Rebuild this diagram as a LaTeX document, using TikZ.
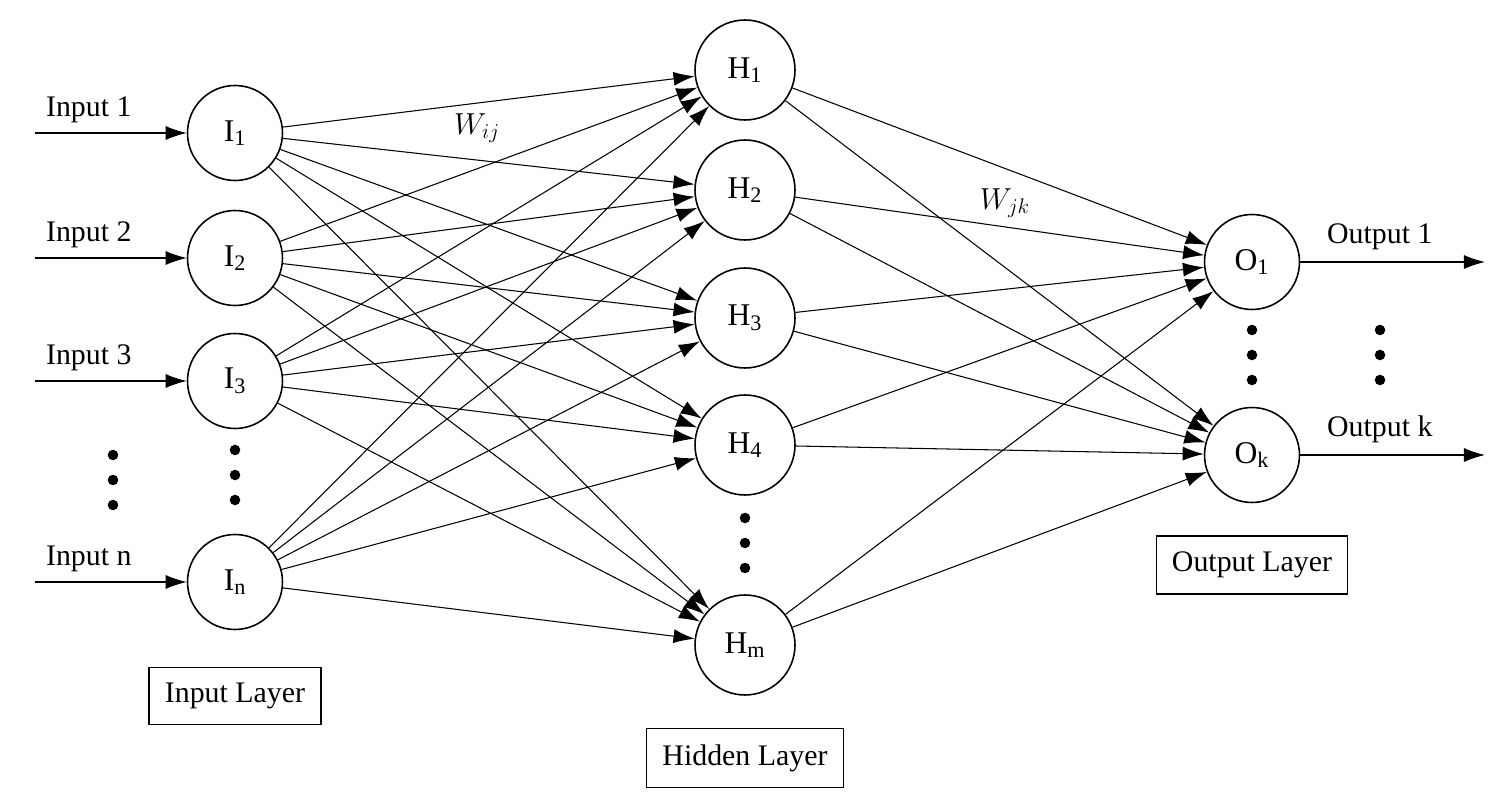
\documentclass[tikz,border=0pt]{standalone}
\usepackage{fontspec}
\setmainfont{Liberation Serif}
\usetikzlibrary{arrows.meta}
\begin{document}
\begin{tikzpicture}[x=0.02cm,y=-0.02cm,
  neuron/.style={circle,draw,line width=0.9pt,minimum size=1.9cm,inner sep=0pt,font=\fontsize{18}{20}\selectfont},
  lbl/.style={font=\fontsize{17}{20}\selectfont,inner sep=1pt},
  box/.style={draw,line width=0.7pt,font=\fontsize{17}{20}\selectfont,inner xsep=9pt,inner ysep=9pt},
  conn/.style={-{Latex[length=12pt,width=8pt]},line width=0.6pt},
  dot/.style={circle,fill,inner sep=0pt,minimum size=6pt}]
\useasboundingbox (0,0) rectangle (1512,803);
% input layer
\node[neuron] (I1) at (235,133) {I\textsubscript{1}};
\node[neuron] (I2) at (235,258) {I\textsubscript{2}};
\node[neuron] (I3) at (235,381) {I\textsubscript{3}};
\node[neuron] (In) at (235,582) {I\textsubscript{n}};
% hidden layer
\node[neuron,minimum size=2cm] (H1) at (745,70) {H\textsubscript{1}};
\node[neuron,minimum size=2cm] (H2) at (745,190) {H\textsubscript{2}};
\node[neuron,minimum size=2cm] (H3) at (745,318) {H\textsubscript{3}};
\node[neuron,minimum size=2cm] (H4) at (745,445) {H\textsubscript{4}};
\node[neuron,minimum size=2cm] (Hm) at (745,645) {H\textsubscript{m}};
% output layer
\node[neuron] (O1) at (1252,262) {O\textsubscript{1}};
\node[neuron] (Ok) at (1252,455) {O\textsubscript{k}};
% inputs
\foreach \n/\y/\t in {1/133/Input 1,2/258/Input 2,3/381/Input 3,n/582/Input n}{
  \coordinate (s\n) at (35,\y);
  \draw[conn] (s\n) -- (I\n);
  \node[lbl,anchor=south west] (li\n) at (44,\y-8) {\t};
}
% outputs
\coordinate (e1) at (1485,262);
\coordinate (ek) at (1485,455);
\draw[conn] (O1) -- (e1);
\draw[conn] (Ok) -- (ek);
\node[lbl,anchor=south west] (lo1) at (1325,252) {Output 1};
\node[lbl,anchor=south west] (lok) at (1325,445) {Output k};
% connections
\foreach \i in {1,2,3,n}
  \foreach \h in {1,2,3,4,m}
    \draw[conn] (I\i) -- (H\h);
\foreach \h in {1,2,3,4,m}
  \foreach \o in {1,k}
    \draw[conn] (H\h) -- (O\o);
% weights
\node[lbl] (wij) at (477,128) {$W_{ij}$};
\node[lbl] (wjk) at (1005,203) {$W_{jk}$};
% dots
\foreach \x/\y in {113/455,113/480,113/505,235/450,235/475,235/500,745/518,745/543,745/568,1252/330,1252/355,1252/380,1380/330,1380/355,1380/380}
  \node[dot] at (\x,\y) {};
% layer boxes
\node[box] (bi) at (235,696) {Input Layer};
\node[box] (bh) at (745,758) {Hidden Layer};
\node[box] (bo) at (1252,565) {Output Layer};
\end{tikzpicture}
\end{document}
